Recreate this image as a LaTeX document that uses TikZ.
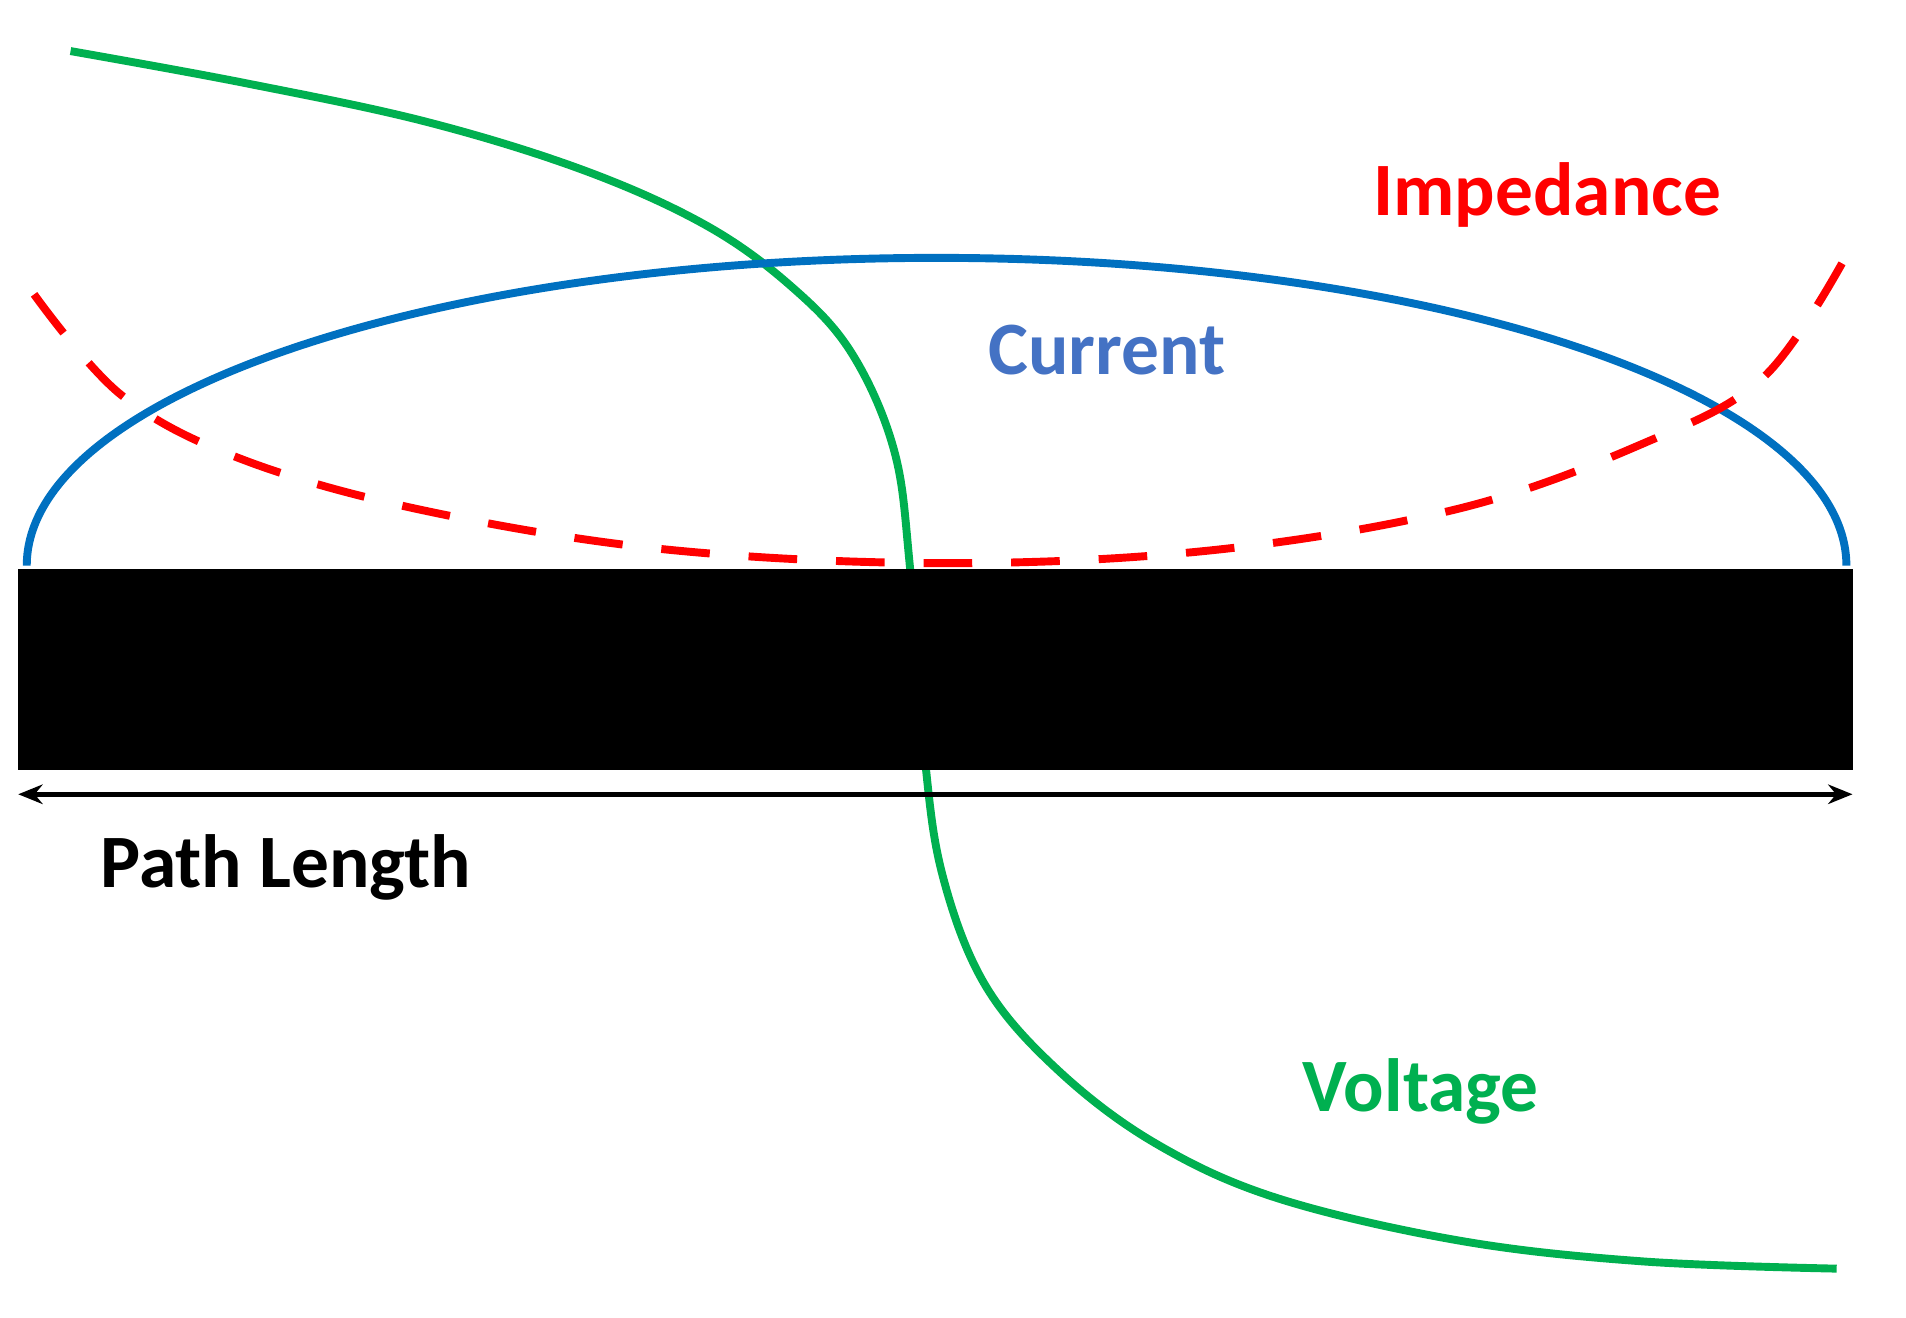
\documentclass[tikz,border=0pt]{standalone}
\usepackage{fontspec}
\setmainfont{Carlito}
\usetikzlibrary{arrows.meta}
\definecolor{cblue}{HTML}{0070C0}
\definecolor{cred}{HTML}{FF0000}
\definecolor{cgreen}{HTML}{00B050}
\definecolor{ctext}{HTML}{4472C4}
\begin{document}
\begin{tikzpicture}[x=1pt,y=-1pt,
  curve/.style={line width=6.5pt},
  lbl/.style={font=\bfseries\fontsize{62}{68}\selectfont}]
\useasboundingbox (0,0) rectangle (1567,1083);
\draw[curve,cgreen] plot[smooth,tension=0.6] coordinates {(58,42) (200,68) (350,100) (480,140) (580,185) (650,235) (700,290) (735,370) (748,465) (760,620) (775,720) (810,810) (870,880) (950,940) (1050,985) (1200,1020) (1350,1037) (1510,1043)};
\node[fill=black,minimum width=1508pt,minimum height=165pt,inner sep=0,anchor=north west] (bar) at (15,468) {};
\draw[curve,cblue] (22,465) arc[start angle=180,end angle=0,x radius=748,y radius=-253];
\draw[curve,cred,dash pattern=on 40pt off 32pt] plot[smooth,tension=0.6] coordinates {(28,242) (100,325) (200,378) (350,420) (550,452) (780,463) (1000,452) (1200,418) (1350,365) (1450,310) (1518,210)};
\coordinate (al) at (15,653); \coordinate (ar) at (1523,653);
\draw[line width=4pt,{Stealth[length=20pt,width=16pt]}-{Stealth[length=20pt,width=16pt]}] (al) -- (ar);
\node[lbl] (pl) at (235,713) {Path Length};
\node[lbl,cred] (imp) at (1272,160) {Impedance};
\node[lbl,ctext] (cur) at (910,288) {Current};
\node[lbl,cgreen] (vol) at (1168,897) {Voltage};
\end{tikzpicture}
\end{document}
